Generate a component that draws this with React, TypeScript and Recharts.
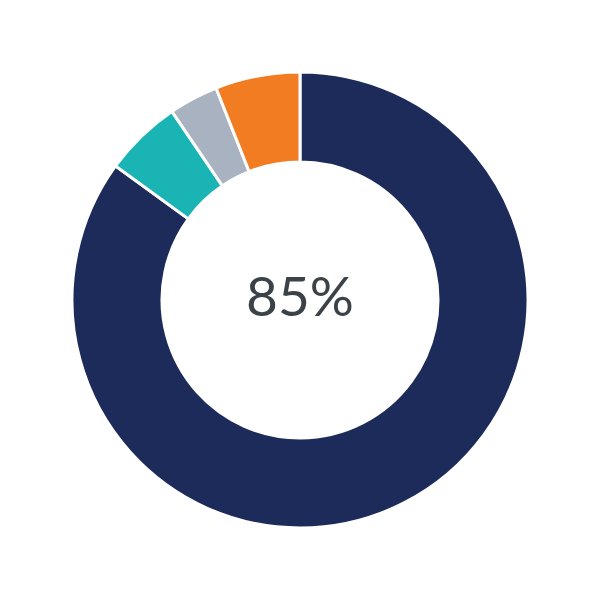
import React from "react";
import { PieChart, Pie, Cell } from "recharts";

const categories = ["Navy", "Teal", "Gray", "Orange"];
const values = [85, 5.5, 3.5, 6];
const colors = ["#1c2b5a", "#1ab4b4", "#a8b2c0", "#f27c22"];
const centerLabel = "85%";

const data = categories.map((name, i) => ({ name, value: values[i] }));

export default function App() {
  return (
    <div style={{ width: 600, height: 600, margin: -8, position: "relative", background: "#fff" }}>
      <PieChart width={600} height={600} margin={{ top: 0, right: 0, bottom: 0, left: 0 }}>
        <Pie
          data={data}
          dataKey="value"
          nameKey="name"
          cx={300}
          cy={300}
          innerRadius={138}
          outerRadius={228}
          startAngle={90}
          endAngle={-270}
          stroke="#ffffff"
          strokeWidth={3}
          isAnimationActive={false}
        >
          {data.map((d, i) => (
            <Cell key={d.name} fill={colors[i]} />
          ))}
        </Pie>
        <text
          x={300}
          y={295}
          textAnchor="middle"
          dominantBaseline="central"
          fontFamily="Lato, sans-serif"
          fontSize={55}
          fill="#3b4248"
        >
          {centerLabel}
        </text>
      </PieChart>
    </div>
  );
}
